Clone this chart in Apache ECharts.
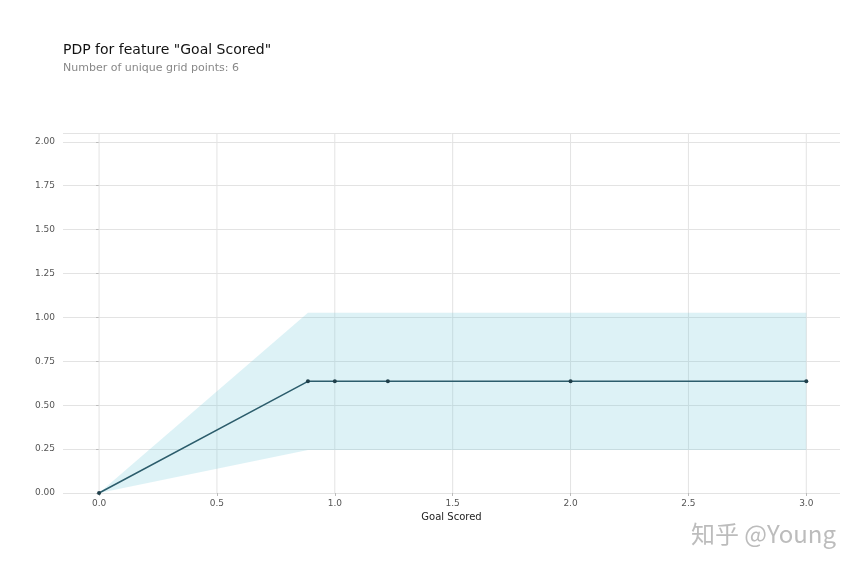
<!DOCTYPE html><html><head><meta charset="utf-8"><script src="https://cdn.jsdelivr.net/npm/echarts@6/dist/echarts.min.js"></script></head><body style="margin:0"><div id="c" style="width:858px;height:576px"></div><script>
const xs=[0,0.886,1.0,1.225,2.0,3.0];
const pdp=[0,0.636,0.636,0.636,0.636,0.636];
const upper=[0,1.026,1.026,1.026,1.026,1.026];
const lower=[0,0.245,0.245,0.245,0.245,0.245];
const xTicks=[0,0.5,1.0,1.5,2.0,2.5,3.0];
const c=echarts.init(document.getElementById('c'));
const ax={color:'#555',fontSize:9,fontFamily:'DejaVu Sans'};
const band=xs.map((x,i)=>[x,lower[i],upper[i]]);
c.setOption({animation:false,
title:{text:'PDP for feature "Goal Scored"',subtext:'Number of unique grid points: 6',left:58,top:38,itemGap:6,
 textStyle:{fontSize:14,fontWeight:'normal',color:'#111',fontFamily:'DejaVu Sans'},subtextStyle:{fontSize:11,color:'#888',fontFamily:'DejaVu Sans'}},
grid:{left:63,right:18,top:133,bottom:83},
xAxis:{type:'value',min:-0.153,max:3.143,name:'Goal Scored',nameLocation:'middle',nameGap:19,nameTextStyle:{fontSize:10,color:'#222',fontFamily:'DejaVu Sans'},
 axisLine:{show:false},axisTick:{show:true,customValues:xTicks,lineStyle:{color:'#bbb'},length:3},
 axisLabel:Object.assign({customValues:xTicks,formatter:v=>v.toFixed(1),margin:6},ax),
 splitLine:{show:false}},
yAxis:{type:'value',min:0,max:2.05,interval:0.25,axisLine:{show:false},axisTick:{show:true,lineStyle:{color:'#bbb'},length:3},
 axisLabel:Object.assign({showMaxLabel:false,formatter:v=>v.toFixed(2),margin:8},ax),
 splitLine:{lineStyle:{color:'#e3e3e3'}}},
series:[
{type:'custom',silent:true,z:1,data:xTicks.map(v=>[v]),renderItem:(p,api)=>{
  const a=api.coord([api.value(0),0]),cs=p.coordSys;
  return {type:'line',shape:{x1:a[0],y1:cs.y,x2:a[0],y2:cs.y+cs.height},style:{stroke:'#e3e3e3',lineWidth:1}};}},
{type:'custom',silent:true,z:2,data:[0],renderItem:(p,api)=>{
  const pts=band.map(d=>api.coord([d[0],d[2]])).concat(band.slice().reverse().map(d=>api.coord([d[0],d[1]])));
  return {type:'polygon',shape:{points:pts},style:{fill:'rgba(102,194,214,0.22)'}};}},
{type:'line',z:3,data:xs.map((x,i)=>[x,pdp[i]]),symbol:'circle',symbolSize:4,lineStyle:{color:'#2c5d6c',width:1.5},itemStyle:{color:'#1f3f4a'}}
],
graphic:[{type:'text',right:22,top:522,style:{text:'知乎 @Young',fontSize:24,fill:'rgba(160,160,160,0.7)',fontFamily:'Noto Sans CJK SC'}}]
});
</script></body></html>
